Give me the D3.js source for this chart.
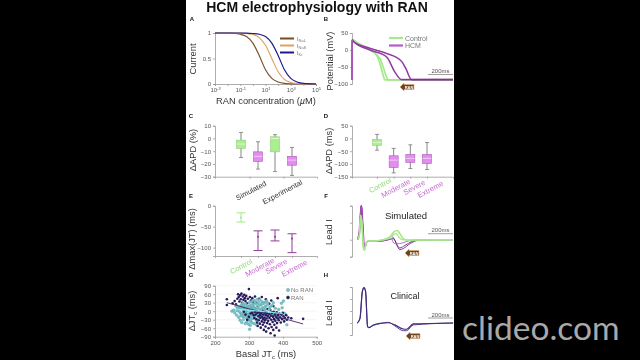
<!DOCTYPE html>
<html lang="en">
<head>
<meta charset="utf-8" />
<title>HCM electrophysiology with RAN</title>
<script src="https://cdnjs.cloudflare.com/ajax/libs/d3/7.8.5/d3.min.js"></script>
<style>
    html, body { margin: 0; padding: 0; background: #000; overflow: hidden; }
    svg { display: block; font-family: "Liberation Sans", Arial, sans-serif; }
    .axis path, .axis line { stroke: #999; stroke-width: 0.8; }
    .axis text { fill: #555; font-size: 6px; font-family: "Liberation Sans", Arial, sans-serif; }
</style>
</head>
<body>
<script>
    // Panel A: block curves, x is log10 of the concentration
    const logConc = [-3, -2, -1, -0.5, 0, 0.5, 1, 1.5, 2, 2.5, 3, 3.5, 4, 5];
    const iNaL = [1, 1, 0.975, 0.93, 0.8, 0.56, 0.28, 0.11, 0.04, 0.012, 0.004, 0.001, 0, 0];
    const iNaK = [1, 1, 0.997, 0.99, 0.97, 0.91, 0.76, 0.5, 0.24, 0.09, 0.03, 0.01, 0.003, 0];
    const iKr = [1, 1, 1, 0.998, 0.99, 0.975, 0.93, 0.8, 0.56, 0.28, 0.11, 0.04, 0.012, 0];

    // Panel B: action potentials [ms, mV]
    const apControl = [[0, -87], [2, 30], [50, 20], [144, 0], [224, -25], [250, -50], [272, -75], [290, -88], [810, -87]];
    const apControlRan = [[0, -87], [2, 30], [50, 20], [144, 1], [197, -15], [224, -40], [245, -68], [264, -88], [810, -87]];
    const apHcm = [[0, -87], [2, 30], [11, 25], [144, 5], [277, -10], [397, -33], [432, -55], [477, -87], [810, -87]];
    const apHcmRan = [[0, -87], [2, 30], [11, 25], [144, 0], [277, -20], [344, -65], [397, -87], [810, -87]];

    // Panel C and D: boxes [low, q1, median, q3, high]
    const apdPctNames = ["Sim control", "Sim HCM", "Exp control", "Exp HCM"];
    const apdPctBoxes = [[-15, -7.8, -4.4, -1.3, 4.7], [-24, -18, -14, -10.5, -2.6], [-26, -10.5, 0, 1.3, 3], [-29, -21, -17, -14, -7]];
    const apdPctLabels = ["Simulated", "Experimental"];
    const groupNames = ["Control", "Moderate", "Severe", "Extreme"];
    const apdMsBoxes = [[-46, -27, -16, -4, 16], [-135, -114, -85, -68, -39], [-118, -94, -78, -63, -25], [-122, -98, -78, -63, -16]];

    // Panel E: [low, mean, high]
    const maxJtRanges = [[-39, -28, -17], [-107, -74, -60], [-84, -74, -58], [-112, -78, -67]];

    // Panel F and H: ECG traces [ms, amplitude]
    const ecgControl = [[45, 0], [59, 0.13], [69, 0.72], [80, 0.47], [91, -0.22], [99, -0.31], [112, -0.12], [123, -0.04], [171, -0.04], [251, 0], [304, 0.08], [336, 0.23], [363, 0.27], [384, 0.18], [411, 0.03], [451, -0.01], [810, 0]];
    const ecgControlRan = [[45, 0], [59, 0.13], [69, 0.72], [80, 0.47], [91, -0.22], [99, -0.31], [112, -0.12], [123, -0.04], [171, -0.04], [251, 0], [304, 0.06], [330, 0.14], [352, 0.18], [375, 0.08], [400, 0], [451, -0.01], [810, 0]];
    const ecgHcmA = [[45, 0], [59, 0.22], [75, 1], [85, 0.47], [96, -0.22], [104, -0.24], [117, -0.07], [144, -0.04], [224, -0.04], [277, 0], [317, 0.1], [344, -0.02], [363, -0.17], [384, -0.24], [424, -0.17], [480, -0.05], [540, 0], [810, 0]];
    const ecgHcmB = [[45, 0], [59, 0.22], [75, 1], [85, 0.47], [96, -0.22], [104, -0.24], [117, -0.07], [144, -0.04], [224, -0.04], [277, -0.02], [331, 0.03], [384, -0.29], [411, -0.26], [464, -0.12], [530, -0.02], [810, 0]];
    const ecgHcmC = [[45, 0], [59, 0.22], [75, 1], [85, 0.47], [96, -0.22], [104, -0.24], [117, -0.07], [144, -0.04], [224, -0.04], [277, 0], [310, 0.06], [336, -0.1], [360, -0.12], [400, -0.1], [450, -0.04], [520, 0], [810, 0]];
    const ecgClinical = [[43, 0], [64, 0.19], [83, 1.31], [96, 1.47], [109, 1.31], [125, -0.15], [136, -0.19], [171, -0.08], [224, -0.01], [291, 0.01], [344, -0.08], [411, -0.25], [438, -0.26], [491, -0.04], [811, 0]];
    const ecgClinicalRan = [[43, 0], [64, 0.19], [83, 1.31], [96, 1.47], [109, 1.31], [125, -0.15], [136, -0.19], [171, -0.1], [224, -0.03], [291, 0.03], [344, -0.12], [411, -0.32], [438, -0.32], [491, -0.08], [811, 0]];

    // Panel G: scatter [basal JTc, change in JTc]
    const noRanPts = [[250, 0], [255, 4], [258, -6], [262, 18], [264, -14], [267, 10], [268, 8], [270, -22], [272, -2], [274, -32], [275, 12], [276, -8], [278, 22], [279, -40], [280, -10], [282, 4], [282, 28], [283, -20], [284, -30], [285, 16], [286, -18], [287, 8], [288, -4], [289, -44], [290, 26], [291, 10], [292, -8], [293, -24], [294, -38], [295, 2], [296, 18], [297, -12], [298, -30], [299, -46], [300, 8], [300, -28], [301, 30], [302, -6], [302, -64], [303, 20], [304, -20], [304, -50], [305, -36], [306, 12], [307, 0], [308, 34], [309, -40], [310, -14], [311, 24], [312, 6], [313, -26], [314, 16], [315, -4], [315, -44], [316, 38], [318, -18], [319, 10], [320, 26], [321, -8], [322, -32], [322, -48], [323, 2], [325, 42], [326, 18], [327, -12], [328, 30], [330, -22], [331, 8], [332, 40], [334, -2], [335, 22], [337, -16], [338, 34], [340, 12], [342, -6], [344, 28], [346, -28], [348, 4], [350, 18], [352, 36], [354, -10], [356, 24], [358, -20], [360, 6], [362, 14], [365, -4], [368, 20], [370, -14], [372, 30], [375, -8], [378, 10], [380, -24], [384, -12], [388, 6], [392, -20], [396, 28], [398, 12], [402, 36], [405, -8], [412, -48], [265, 2], [271, 16], [277, -16], [281, 12], [284, 20], [286, -10], [289, 4], [292, 14], [294, -14], [297, 6], [299, -20], [301, 14], [303, -12], [306, -28], [308, 6], [310, 18], [313, -8], [316, 10], [318, 32], [320, -2], [324, 12], [329, 20], [333, -10], [336, 4], [339, 26], [343, 10], [347, 14], [351, -6], [355, 30]];
    const ranPts = [[235, 42], [235, 22], [252, 28], [258, 36], [262, 24], [266, 44], [268, 60], [270, 50], [272, 34], [274, 56], [276, 42], [278, 62], [280, 30], [280, 14], [282, 52], [284, 40], [285, -2], [286, 58], [288, 46], [290, 36], [290, -12], [292, 54], [294, 28], [295, 8], [295, -30], [297, 44], [300, 78], [300, -20], [303, 50], [305, 14], [305, -8], [306, 38], [310, 46], [310, -6], [314, 32], [314, -14], [315, 6], [316, -24], [318, 52], [318, -2], [320, -12], [322, 30], [322, -28], [324, -40], [325, -6], [326, -52], [328, -18], [329, -32], [330, 44], [330, -4], [332, -44], [333, -14], [334, -24], [335, -58], [336, -8], [338, 50], [338, -36], [339, -20], [340, 2], [341, -48], [342, -28], [343, -12], [344, -66], [345, 30], [345, -40], [346, -22], [347, -4], [348, -32], [349, -54], [350, 42], [350, -14], [351, -72], [352, -26], [353, -6], [354, -42], [355, 8], [356, -18], [357, -34], [358, -60], [360, 26], [360, -10], [361, -24], [362, -46], [363, 4], [364, -78], [365, -16], [366, 38], [366, -30], [367, -56], [368, -6], [370, -38], [371, -20], [372, 18], [372, -66], [373, -2], [374, -28], [375, -48], [376, -86], [377, -12], [378, -34], [380, -20], [381, -58], [382, -4], [383, -42], [385, 46], [385, -26], [386, -14], [388, -32], [389, -68], [390, -8], [392, -22], [394, -40], [396, -12], [398, -28], [400, -6], [402, -18], [404, -36], [406, -24], [410, -14], [412, -30], [416, -22], [425, -25], [460, -27]];
    const noRanFit = [[260, 8], [400, -8]];
    const ranFit = [[235, 30], [460, -45]];

    const GREEN = "#a5e98a", GREEN_DARK = "#8fd874", PURPLE = "#b45cc4", PURPLE_DARK = "#6e2a80";
    const LABEL_PINK = "#c56ad0";

    const svg = d3.select("body").append("svg").attr("width", 640).attr("height", 360);
    svg.append("rect").attr("width", 640).attr("height", 360).attr("fill", "#000");

    const page = svg.append("g").style("filter", "blur(0.35px)");
    page.append("rect").attr("x", 186).attr("y", 0).attr("width", 268).attr("height", 360).attr("fill", "#fff");

    page.append("text").attr("x", 317).attr("y", 12).attr("text-anchor", "middle")
        .attr("font-size", 14).attr("font-weight", "bold").attr("fill", "#111")
        .text("HCM electrophysiology with RAN");

    // small helpers
    function panelLetter(letter, x, y) {
        page.append("text").attr("x", x).attr("y", y).attr("text-anchor", "middle")
            .attr("font-size", 6).attr("font-weight", "bold").attr("fill", "#111").text(letter);
    }
    function yTitle(txt, x, y) {
        return page.append("text").attr("transform", `translate(${x},${y}) rotate(-90)`)
            .attr("text-anchor", "middle").attr("font-size", 9.3).attr("fill", "#333").text(txt);
    }
    function xTitle(txt, x, y) {
        return page.append("text").attr("x", x).attr("y", y).attr("text-anchor", "middle")
            .attr("font-size", 9.3).attr("fill", "#333").text(txt);
    }
    function slanted(txt, x, y, color) {
        page.append("text").attr("transform", `translate(${x},${y}) rotate(-28)`)
            .attr("text-anchor", "end").attr("font-size", 7.5).attr("fill", color).text(txt);
    }
    function drawAxis(axis, tx, ty) {
        return page.append("g").attr("class", "axis").attr("transform", `translate(${tx},${ty})`).call(axis);
    }
    function trace(points, x, y, color, width) {
        const line = d3.line().x(d => x(d[0])).y(d => y(d[1])).curve(d3.curveMonotoneX);
        page.append("path").attr("d", line(points)).attr("fill", "none")
            .attr("stroke", color).attr("stroke-width", width).attr("stroke-linejoin", "round");
    }
    function scaleBar(x0, x1, y) {
        page.append("line").attr("x1", x0).attr("x2", x1).attr("y1", y).attr("y2", y).attr("stroke", "#888").attr("stroke-width", 0.8);
        page.append("text").attr("x", (x0 + x1) / 2).attr("y", y - 1.5).attr("text-anchor", "middle")
            .attr("font-size", 6).attr("fill", "#555").text("200ms");
    }
    function ranArrow(x, y) {
        const g = page.append("g").attr("transform", `translate(${x},${y})`);
        g.append("path").attr("d", "M0,0 L4,-4 L4,-2.5 L14,-2.5 L14,2.5 L4,2.5 L4,4 Z")
            .attr("fill", "#6e4420").attr("stroke", "#e0ad70").attr("stroke-width", 0.6);
        g.append("text").attr("x", 9).attr("y", 1.5).attr("text-anchor", "middle")
            .attr("font-size", 4).attr("font-weight", "bold").attr("fill", "#fff").text("RAN");
    }
    function boxes(data, x, y, colorFn) {
        const w = 9;
        data.forEach((d, i) => {
            const cx = x(i);
            const c = colorFn(i);
            page.append("line").attr("x1", cx).attr("x2", cx).attr("y1", y(d[0])).attr("y2", y(d[4])).attr("stroke", "#777").attr("stroke-width", 0.9);
            page.append("line").attr("x1", cx - 2).attr("x2", cx + 2).attr("y1", y(d[0])).attr("y2", y(d[0])).attr("stroke", "#777").attr("stroke-width", 0.8);
            page.append("line").attr("x1", cx - 2).attr("x2", cx + 2).attr("y1", y(d[4])).attr("y2", y(d[4])).attr("stroke", "#777").attr("stroke-width", 0.8);
            page.append("rect").attr("x", cx - w / 2).attr("y", y(d[3])).attr("width", w).attr("height", y(d[1]) - y(d[3]))
                .attr("fill", c.fill).attr("stroke", c.stroke).attr("stroke-width", 0.6);
            page.append("line").attr("x1", cx - w / 2).attr("x2", cx + w / 2).attr("y1", y(d[2])).attr("y2", y(d[2])).attr("stroke", c.med).attr("stroke-width", 0.8);
        });
    }
    const greenBox = { fill: "#abee8f", stroke: "#8fce78", med: "#e6ffd8" };
    const purpleBox = { fill: "#e58cf0", stroke: "#a95bb5", med: "#f8d8fb" };

    // ---- A
    panelLetter("A", 192, 21);
    const xA = d3.scaleLinear().domain([-3, 5]).range([215, 316]);
    const yA = d3.scaleLinear().domain([0, 1]).range([84, 33]);
    drawAxis(d3.axisLeft(yA).tickValues([0, 0.5, 1]).tickSize(2).tickPadding(2).tickFormat(d3.format("~g")), 215, 0);
    const xAxisA = drawAxis(d3.axisBottom(xA).tickValues(d3.range(-3, 6)).tickSize(2).tickPadding(2)
        .tickFormat(d => (d + 3) % 2 === 0 ? "10" : ""), 0, 84);
    xAxisA.selectAll("text").filter(d => (d + 3) % 2 === 0)
        .append("tspan").attr("dy", -2).attr("font-size", 4).text(d => d);
    const curveA = d3.line().x((d, i) => xA(logConc[i])).y(d => yA(d)).curve(d3.curveMonotoneX);
    [[iNaL, "#7a5230"], [iNaK, "#e0a468"], [iKr, "#1c1c8c"]].forEach(([vals, color]) => {
        page.append("path").attr("d", curveA(vals)).attr("fill", "none").attr("stroke", color).attr("stroke-width", 1.2);
    });
    [["NaL", "#7a4a20", 38.5], ["NaK", "#e0a060", 45.5], ["Kr", "#1c1c8c", 52.5]].forEach(([sub, color, y]) => {
        page.append("line").attr("x1", 280).attr("x2", 294).attr("y1", y).attr("y2", y).attr("stroke", color).attr("stroke-width", 2);
        const t = page.append("text").attr("x", 297).attr("y", y + 2).attr("font-size", 5.5).attr("fill", "#777").text("I");
        t.append("tspan").attr("dy", 1).attr("font-size", 4).text(sub);
    });
    yTitle("Current", 196, 59);
    const titleA = xTitle("RAN concentration (", 266, 104);
    titleA.append("tspan").attr("font-style", "italic").text("\u00b5");
    titleA.append("tspan").text("M)");

    // ---- B
    panelLetter("B", 326, 21);
    const xB = d3.scaleLinear().domain([0, 810]).range([352, 453]);
    const yB = d3.scaleLinear().domain([-100, 50]).range([84, 33]);
    drawAxis(d3.axisLeft(yB).tickValues([-100, -50, 0, 50]).tickSize(2).tickPadding(2), 352, 0);
    trace(apControl, xB, yB, GREEN, 1.7);
    trace(apControlRan, xB, yB, GREEN, 1.7);
    trace(apHcm, xB, yB, PURPLE, 1.6);
    trace(apHcmRan, xB, yB, PURPLE, 1.6);
    trace(apHcm, xB, yB, PURPLE_DARK, 0.7);
    trace(apHcmRan, xB, yB, PURPLE_DARK, 0.7);
    page.append("line").attr("x1", xB(0)).attr("x2", xB(0)).attr("y1", yB(-87)).attr("y2", yB(30)).attr("stroke", PURPLE).attr("stroke-width", 1.5);
    page.append("line").attr("x1", xB(480)).attr("x2", xB(810)).attr("y1", yB(-87)).attr("y2", yB(-87)).attr("stroke", "#555").attr("stroke-width", 1.2);
    [["Control", GREEN, 38], ["HCM", PURPLE, 45.5]].forEach(([name, color, y]) => {
        page.append("line").attr("x1", 389).attr("x2", 403).attr("y1", y).attr("y2", y).attr("stroke", color).attr("stroke-width", 2.2);
        page.append("text").attr("x", 405).attr("y", y + 2.5).attr("font-size", 7).attr("fill", "#777").text(name);
    });
    scaleBar(428, 453, 74.5);
    ranArrow(400, 87);
    yTitle("Potential (mV)", 333, 61);

    // ---- C
    panelLetter("C", 191, 118);
    const xC = d3.scalePoint().domain(d3.range(apdPctNames.length)).range([241, 292]);
    const yC = d3.scaleLinear().domain([-30, 10]).range([176.7, 125.7]);
    drawAxis(d3.axisLeft(yC).tickValues([-30, -20, -10, 0, 10]).tickSize(2).tickPadding(2).tickFormat(d3.format("d")), 215, 0);
    const xLineC = d3.scaleLinear().domain([0, 1]).range([215, 317]);
    drawAxis(d3.axisBottom(xLineC).tickValues([(249.5 - 215) / 102, (283.5 - 215) / 102]).tickSize(2).tickFormat(""), 0, 176.7);
    boxes(apdPctBoxes, xC, yC, i => i % 2 === 0 ? greenBox : purpleBox);
    slanted(apdPctLabels[0], 267, 185, "#333");
    slanted(apdPctLabels[1], 303, 184, "#333");
    yTitle("\u0394APD (%)", 196, 150);

    // ---- D
    panelLetter("D", 326, 118);
    const xD = d3.scalePoint().domain(d3.range(groupNames.length)).range([377, 427]);
    const yD = d3.scaleLinear().domain([-150, 50]).range([176.7, 125.7]);
    drawAxis(d3.axisLeft(yD).tickValues([-150, -100, -50, 0, 50]).tickSize(2).tickPadding(2).tickFormat(d3.format("d")), 352, 0);
    const xLineD = d3.scaleLinear().domain([352, 453]).range([352, 453]);
    drawAxis(d3.axisBottom(xLineD).tickValues([377, 393.7, 410.3, 427]).tickSize(2).tickFormat(""), 0, 176.7);
    boxes(apdMsBoxes, xD, yD, i => i === 0 ? greenBox : purpleBox);
    [[392, 182], [411, 183], [426, 184], [444, 185]].forEach((p, i) => {
        slanted(groupNames[i], p[0], p[1], i === 0 ? GREEN_DARK : LABEL_PINK);
    });
    yTitle("\u0394APD (ms)", 332, 151);

    // ---- E
    panelLetter("E", 191, 198);
    const xE = d3.scalePoint().domain(d3.range(groupNames.length)).range([241, 292]);
    const yE = d3.scaleLinear().domain([-120, 0]).range([256, 205.7]);
    drawAxis(d3.axisLeft(yE).tickValues([-100, -50, 0]).tickSize(2).tickPadding(2).tickFormat(d3.format("d")), 215, 0);
    const xLineE = d3.scaleLinear().domain([215, 317]).range([215, 317]);
    drawAxis(d3.axisBottom(xLineE).tickValues([241, 258, 275, 292]).tickSize(2).tickFormat(""), 0, 256);
    maxJtRanges.forEach((d, i) => {
        const cx = xE(i);
        const c = i === 0 ? GREEN : "#8e3c98";
        page.append("line").attr("x1", cx).attr("x2", cx).attr("y1", yE(d[0])).attr("y2", yE(d[2])).attr("stroke", c).attr("stroke-width", 1);
        [d[0], d[2]].forEach(v => {
            page.append("line").attr("x1", cx - 4.5).attr("x2", cx + 4.5).attr("y1", yE(v)).attr("y2", yE(v)).attr("stroke", c).attr("stroke-width", 1);
        });
        page.append("circle").attr("cx", cx).attr("cy", yE(d[1])).attr("r", 1).attr("fill", c);
    });
    [[253, 263], [275, 262], [288, 263], [308, 264]].forEach((p, i) => {
        slanted(groupNames[i], p[0], p[1], i === 0 ? GREEN_DARK : LABEL_PINK);
    });
    yTitle("\u0394max(JT) (ms)", 195, 239);

    // ---- F
    panelLetter("F", 326, 198);
    const xF = d3.scaleLinear().domain([0, 810]).range([352, 453]);
    const yF = d3.scaleLinear().domain([-0.5, 1]).range([256.7, 205.7]);
    drawAxis(d3.axisLeft(yF).tickValues([-0.5, 0, 0.5, 1]).tickSize(2).tickFormat(""), 352, 0);
    trace(ecgHcmA.slice(0, 5), xF, yF, "#c63fd0", 1.8);
    trace(ecgHcmA, xF, yF, PURPLE_DARK, 0.9);
    trace(ecgHcmB, xF, yF, PURPLE_DARK, 0.9);
    trace(ecgHcmC, xF, yF, PURPLE, 0.9);
    trace(ecgControl, xF, yF, GREEN, 1.6);
    trace(ecgControlRan, xF, yF, GREEN, 1.2);
    page.append("text").attr("x", 406).attr("y", 219).attr("text-anchor", "middle").attr("font-size", 9.5).attr("fill", "#222").text("Simulated");
    scaleBar(428, 453, 233.7);
    ranArrow(405, 253);
    yTitle("Lead I", 332, 232);

    // ---- G
    panelLetter("G", 191, 277);
    const xG = d3.scaleLinear().domain([200, 500]).range([215, 316.7]);
    const yG = d3.scaleLinear().domain([-90, 90]).range([336.7, 285.7]);
    page.append("g").selectAll("line").data(d3.range(-60, 91, 30)).join("line")
        .attr("x1", 215).attr("x2", 316.7).attr("y1", d => yG(d)).attr("y2", d => yG(d))
        .attr("stroke", "#eee").attr("stroke-width", 0.6);
    drawAxis(d3.axisLeft(yG).tickValues(d3.range(-90, 91, 30)).tickSize(2).tickPadding(2).tickFormat(d3.format("d")), 215, 0);
    drawAxis(d3.axisBottom(xG).tickValues([200, 300, 400, 500]).tickSize(2).tickPadding(2), 0, 336.7);
    page.append("g").selectAll("circle").data(ranPts.filter(d => d[1] > 0)).join("circle")
        .attr("cx", d => xG(d[0])).attr("cy", d => yG(d[1])).attr("r", 1.3).attr("fill", "#251a5c");
    page.append("g").selectAll("circle").data(noRanPts).join("circle")
        .attr("cx", d => xG(d[0])).attr("cy", d => yG(d[1])).attr("r", 1.4).attr("fill", "#74c6c8").attr("stroke", "#4f8f9c").attr("stroke-width", 0.3);
    page.append("g").selectAll("circle").data(ranPts.filter(d => d[1] <= 0)).join("circle")
        .attr("cx", d => xG(d[0])).attr("cy", d => yG(d[1])).attr("r", 1.3).attr("fill", "#251a5c");
    trace(ranFit, xG, yG, "#4a1f6c", 0.9);
    trace(noRanFit, xG, yG, "#8fecec", 1.1);
    [["No RAN", "#74c6c8", 290], ["RAN", "#251a5c", 297.5]].forEach(([name, color, y]) => {
        page.append("circle").attr("cx", 288).attr("cy", y).attr("r", 1.7).attr("fill", color).attr("stroke", "#5d7a90").attr("stroke-width", 0.3);
        page.append("text").attr("x", 291).attr("y", y + 2.2).attr("font-size", 6).attr("fill", "#777").text(name);
    });
    const yTitleG = yTitle("\u0394JT", 195, 311);
    yTitleG.append("tspan").attr("dy", 2).attr("font-size", 6).text("c");
    yTitleG.append("tspan").attr("dy", -2).text(" (ms)");
    const xTitleG = xTitle("Basal JT", 266, 357);
    xTitleG.append("tspan").attr("dy", 2).attr("font-size", 6).text("c");
    xTitleG.append("tspan").attr("dy", -2).text(" (ms)");

    // ---- H
    panelLetter("H", 326, 277);
    const xH = d3.scaleLinear().domain([0, 810]).range([352, 453]);
    const yH = d3.scaleLinear().domain([-0.5, 1.5]).range([335, 287]);
    drawAxis(d3.axisLeft(yH).tickValues([-0.5, 0, 0.5, 1, 1.5]).tickSize(2).tickFormat(""), 352, 0);
    trace(ecgClinical, xH, yH, "#3a2a80", 1.2);
    trace(ecgClinicalRan, xH, yH, "#4a2a78", 0.9);
    page.append("text").attr("x", 405).attr("y", 299).attr("text-anchor", "middle").attr("font-size", 9).attr("fill", "#222").text("Clinical");
    scaleBar(428, 453, 318);
    ranArrow(406, 336);
    yTitle("Lead I", 332, 313);

    // watermark on the black part
    svg.append("text").attr("x", 462).attr("y", 340).attr("font-family", "Lato, sans-serif")
        .attr("font-size", 33.5).attr("fill", "#a9a9a9").text("clideo.com");
</script>
</body>
</html>
